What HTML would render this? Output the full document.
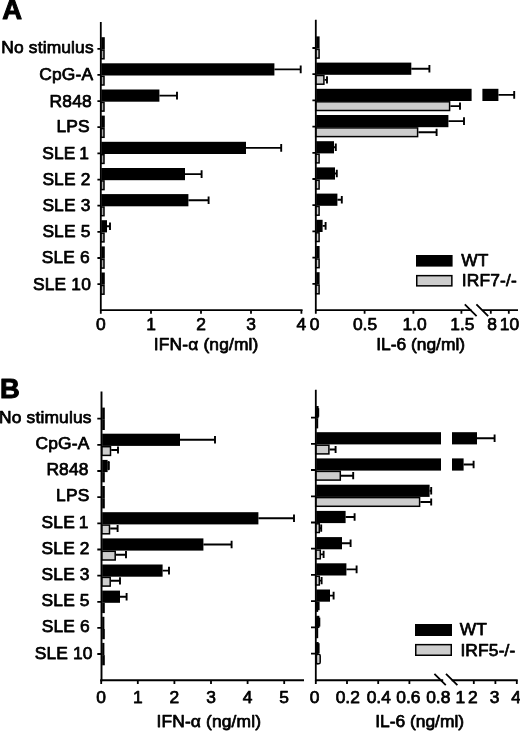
<!DOCTYPE html>
<html lang="en">
<head>
<meta charset="utf-8">
<title>Figure</title>
<style>
html,body{margin:0;padding:0;background:#fff;}
svg{display:block}
text{font-family:"Liberation Sans",Arial,Helvetica,sans-serif;font-size:17.4px;fill:#000;stroke:#000;stroke-width:0.75px;letter-spacing:0.15px;stroke-linejoin:round;}
.p{font-weight:bold;font-size:27.4px;stroke-width:1px}
.n{letter-spacing:0}
.a{stroke:#000;stroke-width:1.8;fill:none}
.a2{stroke:#000;stroke-width:2;fill:none}
.e{stroke:#000;stroke-width:1.9;fill:none}
.g{fill:#cdcdcd;stroke:#000;stroke-width:1.5}
.t{fill:#aaa}
</style>
</head>
<body>
<svg width="520" height="731" viewBox="0 0 520 731">
<rect width="520" height="731" fill="#fff"/>
<text x="2.3" y="19" class="p">A</text>
<text x="93.8" y="53.4" text-anchor="end">No stimulus</text>
<text x="93.2" y="79.9" text-anchor="end">CpG-A</text>
<text x="91.8" y="106.9" text-anchor="end">R848</text>
<text x="89.8" y="132.4" text-anchor="end">LPS</text>
<text x="89.0" y="159.0" text-anchor="end" style="word-spacing:-1.4px">SLE 1</text>
<text x="90.5" y="184.8" text-anchor="end">SLE 2</text>
<text x="90.5" y="210.9" text-anchor="end">SLE 3</text>
<text x="90.5" y="237.0" text-anchor="end">SLE 5</text>
<text x="89.8" y="263.2" text-anchor="end">SLE 6</text>
<text x="91.0" y="289.8" text-anchor="end">SLE 10</text>
<rect x="101.3" y="37.2" width="3.5" height="12.2" fill="#000"/>
<rect x="100.8" y="50.1" width="3.2" height="8.7" class="g t"/>
<rect x="101.3" y="63.3" width="173.1" height="12.2" fill="#000"/>
<path d="M274.4 69.4H300.7M300.7 65.6V73.2" class="e"/>
<rect x="100.8" y="76.3" width="3.2" height="8.7" class="g t"/>
<rect x="101.3" y="89.5" width="58.1" height="12.2" fill="#000"/>
<path d="M159.4 95.6H177.0M177.0 91.8V99.4" class="e"/>
<rect x="100.8" y="102.4" width="3.2" height="8.7" class="g t"/>
<rect x="101.3" y="115.6" width="3.5" height="12.2" fill="#000"/>
<rect x="100.8" y="128.6" width="3.2" height="8.7" class="g t"/>
<rect x="101.3" y="141.8" width="144.7" height="12.2" fill="#000"/>
<path d="M246.0 147.9H281.2M281.2 144.1V151.7" class="e"/>
<rect x="100.8" y="154.7" width="3.2" height="8.7" class="g t"/>
<rect x="101.3" y="168.0" width="83.7" height="12.2" fill="#000"/>
<path d="M185.0 174.1H201.6M201.6 170.2V177.9" class="e"/>
<rect x="100.8" y="180.9" width="3.2" height="8.7" class="g t"/>
<rect x="101.3" y="194.1" width="87.1" height="12.2" fill="#000"/>
<path d="M188.4 200.2H208.6M208.6 196.4V204.0" class="e"/>
<rect x="100.8" y="207.0" width="3.2" height="8.7" class="g t"/>
<rect x="101.3" y="220.2" width="5.7" height="12.2" fill="#000"/>
<path d="M107.0 226.3H110.0M110.0 222.5V230.1" class="e"/>
<rect x="100.8" y="233.2" width="3.2" height="8.7" class="g t"/>
<rect x="101.3" y="246.4" width="3.5" height="12.2" fill="#000"/>
<rect x="100.8" y="259.4" width="3.2" height="8.7" class="g t"/>
<rect x="101.3" y="272.5" width="3.5" height="12.2" fill="#000"/>
<rect x="100.8" y="285.5" width="3.2" height="8.7" class="g t"/>
<path d="M100.8 22V310.8" class="a" style="stroke-width:1.8"/>
<path d="M97.4 48.8H100.8M97.4 74.9H100.8M97.4 101.1H100.8M97.4 127.2H100.8M97.4 153.4H100.8M97.4 179.6H100.8M97.4 205.7H100.8M97.4 231.8H100.8M97.4 258.0H100.8M97.4 284.1H100.8" class="a"/>
<path d="M100 310.2H302.6" class="a"/>
<path d="M100.8 310.2V313.8M151.0 310.2V313.8M201.0 310.2V313.8M251.0 310.2V313.8M301.4 310.2V313.8" class="a"/>
<text x="100.8" y="330.4" text-anchor="middle" class="n">0</text>
<text x="151.0" y="330.4" text-anchor="middle" class="n">1</text>
<text x="201.0" y="330.4" text-anchor="middle" class="n">2</text>
<text x="251.0" y="330.4" text-anchor="middle" class="n">3</text>
<text x="301.4" y="330.4" text-anchor="middle" class="n">4</text>
<text x="206.2" y="350" text-anchor="middle">IFN-α (ng/ml)</text>
<rect x="316.2" y="36.4" width="3.4" height="12.2" fill="#000"/>
<rect x="315.7" y="49.4" width="3.4" height="8.7" class="g"/>
<rect x="316.2" y="62.6" width="95.1" height="12.2" fill="#000"/>
<path d="M411.3 68.7H429.4M429.4 64.9V72.5" class="e"/>
<rect x="315.7" y="75.5" width="8.2" height="8.7" class="g"/>
<path d="M324.6 79.9H327.0M327.0 76.3V83.5" class="e"/>
<rect x="316.2" y="88.8" width="155.4" height="12.2" fill="#000"/>
<rect x="482.4" y="88.8" width="16.0" height="12.2" fill="#000"/>
<path d="M498.4 94.9H514.2M514.2 91.1V98.7" class="e"/>
<rect x="315.7" y="101.8" width="133.9" height="8.7" class="g"/>
<path d="M450.4 106.1H460.0M460.0 102.5V109.7" class="e"/>
<rect x="316.2" y="115.0" width="132.2" height="12.2" fill="#000"/>
<path d="M448.4 121.1H464.0M464.0 117.3V124.9" class="e"/>
<rect x="315.7" y="127.9" width="101.9" height="8.7" class="g"/>
<path d="M418.4 132.3H436.6M436.6 128.7V135.9" class="e"/>
<rect x="316.2" y="141.2" width="17.8" height="12.2" fill="#000"/>
<path d="M334.0 147.3H335.8M335.8 143.5V151.1" class="e"/>
<rect x="315.7" y="154.2" width="3.4" height="8.7" class="g"/>
<rect x="316.2" y="167.4" width="18.8" height="12.2" fill="#000"/>
<path d="M335.0 173.5H336.8M336.8 169.7V177.3" class="e"/>
<rect x="315.7" y="180.3" width="3.4" height="8.7" class="g"/>
<rect x="316.2" y="193.6" width="21.2" height="12.2" fill="#000"/>
<path d="M337.4 199.7H341.8M341.8 195.9V203.5" class="e"/>
<rect x="315.7" y="206.5" width="3.4" height="8.7" class="g"/>
<rect x="316.2" y="219.8" width="6.4" height="12.2" fill="#000"/>
<path d="M322.6 225.9H325.6M325.6 222.1V229.7" class="e"/>
<rect x="315.7" y="232.8" width="3.4" height="8.7" class="g"/>
<rect x="316.2" y="246.0" width="3.4" height="12.2" fill="#000"/>
<rect x="315.7" y="259.0" width="3.4" height="8.7" class="g"/>
<rect x="316.2" y="272.2" width="3.4" height="12.2" fill="#000"/>
<rect x="315.7" y="285.1" width="3.4" height="8.7" class="g"/>
<path d="M315.8 19.8V310.8" class="a" style="stroke-width:1.8"/>
<path d="M312.4 48.0H315.8M312.4 74.2H315.8M312.4 100.4H315.8M312.4 126.6H315.8M312.4 152.8H315.8M312.4 179.0H315.8M312.4 205.2H315.8M312.4 231.4H315.8M312.4 257.6H315.8M312.4 283.8H315.8" class="a"/>
<path d="M315 310.2H471.5M482.3 310.2H518" class="a"/>
<path d="M464.8 304.4L476.6 316.2M476.4 304.4L488.2 316.2" class="a"/>
<path d="M315.8 310.2V313.8M364.6 310.2V313.8M413.4 310.2V313.8M461.4 310.2V313.8M490.8 310.2V313.8M508.8 310.2V313.8" class="a"/>
<text x="314.6" y="330.4" text-anchor="middle" class="n">0</text>
<text x="365.0" y="330.4" text-anchor="middle" class="n">0.5</text>
<text x="414.6" y="330.4" text-anchor="middle" class="n">1.0</text>
<text x="462.4" y="330.4" text-anchor="middle" class="n">1.5</text>
<text x="492.0" y="330.4" text-anchor="middle" class="n">8</text>
<text x="509.4" y="330.4" text-anchor="middle" class="n">10</text>
<text x="420.6" y="350" text-anchor="middle" class="n">IL-6 (ng/ml)</text>
<rect x="416" y="255" width="36.6" height="11.6" fill="#000"/>
<rect x="416.75" y="275.65" width="35.1" height="10.2" class="g"/>
<text x="461.2" y="266.2">WT</text>
<text x="461.8" y="286.2">IRF7-/-</text>
<text x="0" y="397.7" class="p">B</text>
<text x="91.6" y="423.2" text-anchor="end">No stimulus</text>
<text x="89.5" y="449.0" text-anchor="end">CpG-A</text>
<text x="88.6" y="475.4" text-anchor="end">R848</text>
<text x="89.4" y="500.8" text-anchor="end">LPS</text>
<text x="88.5" y="527.9" text-anchor="end" style="word-spacing:-1.2px">SLE 1</text>
<text x="89.7" y="553.8" text-anchor="end">SLE 2</text>
<text x="89.7" y="579.8" text-anchor="end">SLE 3</text>
<text x="89.7" y="605.8" text-anchor="end">SLE 5</text>
<text x="89.8" y="631.8" text-anchor="end">SLE 6</text>
<text x="92.6" y="658.7" text-anchor="end">SLE 10</text>
<rect x="102.2" y="407.6" width="2.6" height="12.2" fill="#000"/>
<rect x="102.2" y="419.8" width="2.6" height="10.2" fill="#000"/>
<rect x="102.2" y="433.7" width="77.8" height="12.2" fill="#000"/>
<path d="M180.0 439.8H215.0M215.0 436.0V443.6" class="e"/>
<rect x="101.7" y="446.7" width="8.8" height="8.7" class="g"/>
<path d="M111.2 450.0H118.0M118.0 446.4V453.6" class="e"/>
<rect x="102.2" y="459.9" width="5.4" height="12.2" fill="#000"/>
<rect x="102.2" y="472.1" width="2.6" height="10.2" fill="#000"/>
<rect x="102.2" y="486.0" width="2.6" height="12.2" fill="#000"/>
<rect x="102.2" y="498.2" width="2.6" height="10.2" fill="#000"/>
<rect x="102.2" y="512.2" width="156.2" height="12.2" fill="#000"/>
<path d="M258.4 518.3H294.0M294.0 514.5V522.1" class="e"/>
<rect x="101.7" y="525.1" width="7.8" height="8.7" class="g"/>
<path d="M110.2 528.5H117.6M117.6 524.9V532.1" class="e"/>
<rect x="102.2" y="538.4" width="101.2" height="12.2" fill="#000"/>
<path d="M203.4 544.5H231.6M231.6 540.7V548.2" class="e"/>
<rect x="101.7" y="551.3" width="13.5" height="8.7" class="g"/>
<path d="M116.0 554.7H126.0M126.0 551.1V558.3" class="e"/>
<rect x="102.2" y="564.5" width="60.4" height="12.2" fill="#000"/>
<path d="M162.6 570.6H169.0M169.0 566.8V574.4" class="e"/>
<rect x="101.7" y="577.4" width="8.5" height="8.7" class="g"/>
<path d="M111.0 580.8H120.0M120.0 577.2V584.4" class="e"/>
<rect x="102.2" y="590.6" width="17.8" height="12.2" fill="#000"/>
<path d="M120.0 596.8H126.6M126.6 593.0V600.5" class="e"/>
<rect x="102.2" y="602.9" width="2.6" height="10.2" fill="#000"/>
<rect x="102.2" y="616.8" width="2.2" height="12.2" fill="#000"/>
<rect x="102.2" y="629.0" width="2.6" height="10.2" fill="#000"/>
<rect x="102.2" y="642.9" width="2.2" height="12.2" fill="#000"/>
<rect x="102.2" y="655.1" width="2.6" height="10.2" fill="#000"/>
<path d="M108.6 462.2V469" stroke="#000" stroke-width="2.4" stroke-linecap="round"/>
<path d="M101.5 391.4V681.3" class="a" style="stroke-width:1.9"/>
<path d="M97.3 418.7H101.5M97.3 444.8H101.5M97.3 471.0H101.5M97.3 497.1H101.5M97.3 523.3H101.5M97.3 549.5H101.5M97.3 575.6H101.5M97.3 601.8H101.5M97.3 627.9H101.5M97.3 654.0H101.5" class="a"/>
<path d="M100.2 680.3H304" class="a2"/>
<path d="M101.2 680.3V683.9M137.8 680.3V683.9M174.4 680.3V683.9M211.0 680.3V683.9M247.6 680.3V683.9M284.2 680.3V683.9" class="a"/>
<text x="101.2" y="703.3" text-anchor="middle" class="n">0</text>
<text x="137.8" y="703.3" text-anchor="middle" class="n">1</text>
<text x="174.4" y="703.3" text-anchor="middle" class="n">2</text>
<text x="211.0" y="703.3" text-anchor="middle" class="n">3</text>
<text x="247.6" y="703.3" text-anchor="middle" class="n">4</text>
<text x="284.2" y="703.3" text-anchor="middle" class="n">5</text>
<text x="208.8" y="726.5" text-anchor="middle">IFN-α (ng/ml)</text>
<rect x="316.2" y="406.0" width="2.4" height="12.2" fill="#000"/>
<rect x="316.2" y="418.2" width="2.0" height="10.2" fill="#000"/>
<rect x="316.2" y="432.2" width="124.8" height="12.2" fill="#000"/>
<rect x="452.0" y="432.2" width="25.0" height="12.2" fill="#000"/>
<path d="M477.0 438.3H494.6M494.6 434.5V442.1" class="e"/>
<rect x="315.7" y="445.2" width="13.2" height="8.7" class="g"/>
<path d="M329.6 449.5H335.6M335.6 445.9V453.1" class="e"/>
<rect x="316.2" y="458.4" width="124.8" height="12.2" fill="#000"/>
<rect x="452.0" y="458.4" width="11.6" height="12.2" fill="#000"/>
<path d="M463.6 464.5H473.6M473.6 460.7V468.3" class="e"/>
<rect x="315.7" y="471.4" width="24.6" height="8.7" class="g"/>
<path d="M341.0 475.7H353.2M353.2 472.1V479.3" class="e"/>
<rect x="316.2" y="484.7" width="113.4" height="12.2" fill="#000"/>
<path d="M429.6 490.8H431.2M431.2 487.0V494.6" class="e"/>
<rect x="315.7" y="497.6" width="103.9" height="8.7" class="g"/>
<path d="M420.4 502.0H431.2M431.2 498.4V505.6" class="e"/>
<rect x="316.2" y="510.9" width="29.4" height="12.2" fill="#000"/>
<path d="M345.6 517.0H354.6M354.6 513.2V520.8" class="e"/>
<rect x="315.7" y="523.8" width="3.6" height="8.7" class="g"/>
<path d="M320.0 528.2H321.2M321.2 524.6V531.8" class="e"/>
<rect x="316.2" y="537.1" width="25.8" height="12.2" fill="#000"/>
<path d="M342.0 543.2H350.6M350.6 539.4V547.0" class="e"/>
<rect x="315.7" y="550.1" width="4.6" height="8.7" class="g"/>
<path d="M321.0 554.4H323.6M323.6 550.8V558.0" class="e"/>
<rect x="316.2" y="563.3" width="30.2" height="12.2" fill="#000"/>
<path d="M346.4 569.4H356.6M356.6 565.6V573.2" class="e"/>
<rect x="315.7" y="576.3" width="3.6" height="8.7" class="g"/>
<path d="M320.0 580.6H321.6M321.6 577.0V584.2" class="e"/>
<rect x="316.2" y="589.5" width="13.8" height="12.2" fill="#000"/>
<path d="M330.0 595.6H333.6M333.6 591.8V599.4" class="e"/>
<rect x="316.2" y="601.7" width="2.0" height="10.2" fill="#000"/>
<rect x="316.2" y="615.8" width="3.2" height="12.2" fill="#000"/>
<rect x="316.2" y="628.0" width="2.0" height="10.2" fill="#000"/>
<rect x="316.2" y="642.0" width="2.4" height="12.2" fill="#000"/>
<rect x="316.2" y="654.2" width="2.0" height="10.2" fill="#000"/>
<path d="M315.8 389.8V681.3" class="a" style="stroke-width:1.8"/>
<path d="M311.0 417.6H315.8M311.0 443.8H315.8M311.0 470.0H315.8M311.0 496.3H315.8M311.0 522.5H315.8M311.0 548.7H315.8M311.0 574.9H315.8M311.0 601.1H315.8M311.0 627.4H315.8M311.0 653.6H315.8" class="a"/>
<path d="M315 680.3H443.2M451.7 680.3H517.7" class="a2"/>
<path d="M434.4 673.8L445.8 685.2M446 673.8L457.4 685.2" class="a"/>
<path d="M315.8 680.3V683.9M347.0 680.3V683.9M378.2 680.3V683.9M409.4 680.3V683.9M473.8 680.3V683.9M495.4 680.3V683.9M516.8 680.3V683.9" class="a"/>
<text x="314.6" y="703.3" text-anchor="middle" class="n">0</text>
<text x="347.8" y="703.3" text-anchor="middle" class="n">0.2</text>
<text x="378.8" y="703.3" text-anchor="middle" class="n">0.4</text>
<text x="408.4" y="703.3" text-anchor="middle" class="n">0.6</text>
<text x="472.8" y="703.3" text-anchor="middle" class="n">2</text>
<text x="494.6" y="703.3" text-anchor="middle" class="n">3</text>
<text x="516.2" y="703.3" text-anchor="middle" class="n">4</text>
<text x="438.3" y="703.3" text-anchor="middle" class="n">0.8</text>
<text x="460.4" y="703.3" text-anchor="middle" class="n">1</text>
<text x="419.6" y="726.5" text-anchor="middle" class="n">IL-6 (ng/ml)</text>
<rect x="316" y="601.6" width="3.6" height="8.6" fill="#000"/>
<rect x="316" y="617.6" width="4.3" height="9" fill="#000"/>
<rect x="316" y="643.2" width="3.6" height="10" fill="#000"/>
<rect x="316.4" y="654.2" width="3.8" height="9.6" rx="1.6" class="g"/>
<rect x="316" y="408.2" width="3.2" height="8.6" fill="#000"/>
<rect x="415" y="624" width="37" height="12" fill="#000"/>
<rect x="415.75" y="644.65" width="35.5" height="10.6" class="g"/>
<text x="459.8" y="635.2">WT</text>
<text x="460.4" y="655.6">IRF5-/-</text>
</svg>
</body>
</html>
